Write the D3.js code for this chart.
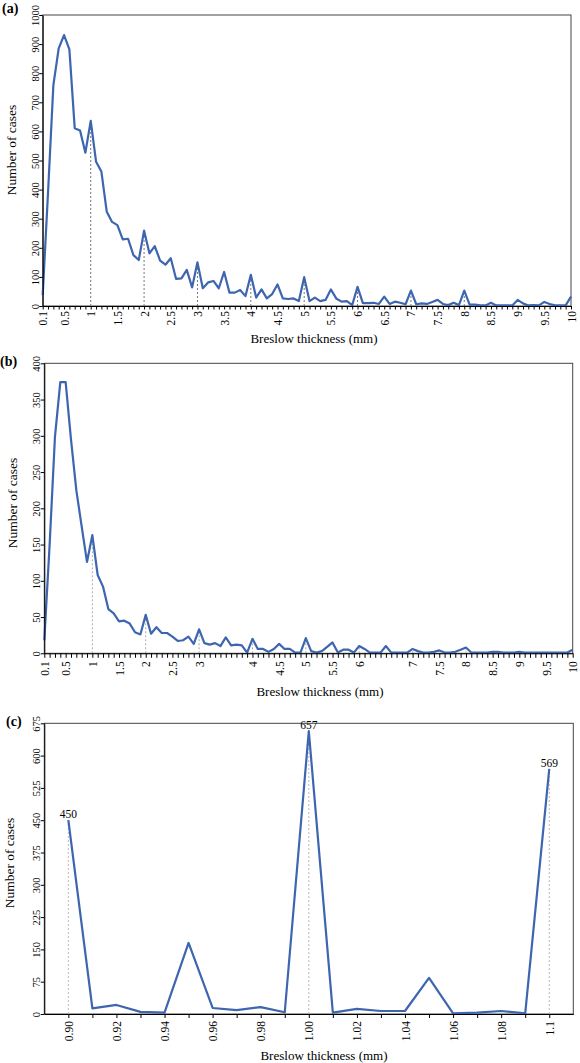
<!DOCTYPE html>
<html>
<head>
<meta charset="utf-8">
<script src="https://d3js.org/d3.v7.min.js"></script>
<title>Breslow thickness</title>
<style>
body { margin: 0; background: #fff; }
text { font-family: 'Liberation Serif', 'DejaVu Serif', serif; }
</style>
</head>
<body>
<svg width="580" height="1063"></svg>
<script>

// Breslow thickness categories, 0.1 mm steps (panels a and b)
const thickness = [0.1,0.2,0.3,0.4,0.5,0.6,0.7,0.8,0.9,1,
  1.1,1.2,1.3,1.4,1.5,1.6,1.7,1.8,1.9,2,
  2.1,2.2,2.3,2.4,2.5,2.6,2.7,2.8,2.9,3,
  3.1,3.2,3.3,3.4,3.5,3.6,3.7,3.8,3.9,4,
  4.1,4.2,4.3,4.4,4.5,4.6,4.7,4.8,4.9,5,
  5.1,5.2,5.3,5.4,5.5,5.6,5.7,5.8,5.9,6,
  6.1,6.2,6.3,6.4,6.5,6.6,6.7,6.8,6.9,7,
  7.1,7.2,7.3,7.4,7.5,7.6,7.7,7.8,7.9,8,
  8.1,8.2,8.3,8.4,8.5,8.6,8.7,8.8,8.9,9,
  9.1,9.2,9.3,9.4,9.5,9.6,9.7,9.8,9.9,10];

const casesA = [38,390,759,885,931,882,611,603,527,636,
  496,462,324,289,278,229,231,175,158,259,
  181,206,156,142,164,93,95,124,64,150,
  61,81,86,61,117,46,46,55,34,107,
  29,57,26,41,74,26,24,26,17,99,
  17,29,17,21,57,26,15,17,3,66,
  10,10,11,7,32,7,15,11,6,53,
  6,9,7,14,21,7,3,11,3,53,
  5,5,2,2,11,2,2,2,2,21,
  9,2,3,2,14,7,2,2,2,32];

const casesB = [18,150,299,374,374,295,225,175,126,163,
  108,92,61,55,44,45,41,29,26,53,
  27,36,28,28,23,17,18,23,13,33,
  14,12,14,10,22,11,12,11,1,20,
  6,6,2,6,13,6,6,1,1,21,
  3,1,3,9,15,1,5,5,1,10,
  6,1,1,1,10,1,1,1,1,6,
  3,1,1,2,4,1,1,2,5,8,
  1,1,1,1,2,2,1,1,1,2,
  1,1,1,1,1,1,1,1,1,5];

const labelsA = [0.1,0.5,1,1.5,2,2.5,3,3.5,4,4.5,5,5.5,6,6.5,7,7.5,8,8.5,9,9.5,10];
const labelsB = [0.1,0.5,1,1.5,2,2.5,3,4,4.5,5,5.5,6,7,7.5,8,8.5,9,9.5,10];
const wholeMm = [1,2,3,4,5,6,7,8];

// panel c: 0.01 mm steps around 1 mm
const thicknessC = ["0.90","0.91","0.92","0.93","0.94","0.95","0.96","0.97","0.98","0.99","1.00",
  "1.01","1.02","1.03","1.04","1.05","1.06","1.07","1.08","1.09","1.1"];
const casesC = [450,13,21,5,3,165,14,9,16,4,657,3,12,7,7,84,1.5,3,7,1.5,569];
const labelsC = ["0.90","0.92","0.94","0.96","0.98","1.00","1.02","1.04","1.06","1.08","1.1"];
const markedC = ["0.90","1.00","1.1"];

const yTicksA = d3.range(0, 1001, 100);
const yTicksB = d3.range(0, 401, 50);
const yTicksC = d3.range(0, 676, 75);

const svg = d3.select("svg");
const blue = "#3d65b0";
const serif = "'Liberation Serif', 'DejaVu Serif', serif";

function drawPanel(p) {
  let g = svg.append("g").attr("font-family", serif);

  let x = d3.scalePoint().domain(p.cats).range([p.left, p.right]).padding(p.pad);
  let y = d3.scaleLinear().domain([0, p.ymax]).range([p.bottom, p.top]);

  // frame
  g.append("rect")
    .attr("x", p.left).attr("y", p.top)
    .attr("width", p.right - p.left).attr("height", p.bottom - p.top)
    .attr("fill", "none").attr("stroke", "#444").attr("stroke-width", 1);

  // dotted guides
  g.selectAll(".guide").data(p.marks).enter().append("line")
    .attr("x1", d => x(d)).attr("x2", d => x(d))
    .attr("y1", p.bottom).attr("y2", d => y(p.vals[p.cats.indexOf(d)]))
    .attr("stroke", p.guideColor).attr("stroke-width", 1)
    .attr("stroke-dasharray", "2,2");

  // line
  let line = d3.line()
    .x((d, i) => x(p.cats[i]))
    .y(d => y(d));
  g.append("path").datum(p.vals)
    .attr("d", line)
    .attr("fill", "none").attr("stroke", blue)
    .attr("stroke-width", 2.2).attr("stroke-linejoin", "round");

  // y axis
  let ya = g.append("g").attr("transform", "translate(" + p.left + ",0)")
    .call(d3.axisLeft(y).tickValues(p.yTicks).tickSize(3.5).tickSizeOuter(0).tickFormat(d3.format("d")));
  ya.attr("font-family", serif);
  ya.selectAll("text")
    .attr("transform", "rotate(-90)")
    .attr("x", 0).attr("y", -4).attr("dy", 0)
    .attr("text-anchor", "middle")
    .style("font-size", "10.5px").style("font-family", serif).attr("fill", "#000");

  // x axis
  let xa = g.append("g").attr("transform", "translate(0," + p.bottom + ")")
    .call(d3.axisBottom(x).tickValues(p.cats).tickSize(p.tick).tickSizeOuter(0)
      .tickFormat(d => p.labels.indexOf(d) >= 0 ? String(d) : ""));
  xa.attr("font-family", serif);
  xa.selectAll("text")
    .attr("transform", "rotate(-90)")
    .attr("x", -p.labGap).attr("y", 0).attr("dy", "0.35em")
    .attr("text-anchor", "end")
    .style("font-size", "11.5px").style("font-family", serif).attr("fill", "#000");

  g.selectAll(".domain, .tick line").attr("stroke", "#000");

  // value labels (panel c)
  if (p.valueLabels) {
    g.selectAll(".vlab").data(p.marks).enter().append("text")
      .attr("x", d => x(d)).attr("y", d => y(p.vals[p.cats.indexOf(d)]) - 2)
      .attr("text-anchor", "middle").style("font-size", "11.5px")
      .text(d => p.vals[p.cats.indexOf(d)]);
  }

  // titles
  g.append("text")
    .attr("x", p.xTitle[0]).attr("y", p.xTitle[1])
    .attr("text-anchor", "middle").style("font-size", "13px")
    .text("Breslow thickness (mm)");
  g.append("text")
    .attr("transform", "translate(" + p.yTitle[0] + "," + p.yTitle[1] + ") rotate(-90)")
    .attr("text-anchor", "middle").style("font-size", "13.5px")
    .text("Number of cases");
  g.append("text")
    .attr("x", p.tag[0]).attr("y", p.tag[1])
    .style("font-size", "14px").style("font-weight", "bold")
    .text(p.name);
}

drawPanel({
  name: "(a)", cats: thickness, vals: casesA, labels: labelsA, marks: wholeMm,
  ymax: 1000, yTicks: yTicksA, left: 42.7, right: 571, top: 15, bottom: 306, pad: 0,
  tick: 3.5, labGap: 5, guideColor: "#777",
  xTitle: [314, 343], yTitle: [16, 150], tag: [2, 13]
});

drawPanel({
  name: "(b)", cats: thickness, vals: casesB, labels: labelsB, marks: wholeMm,
  ymax: 400, yTicks: yTicksB, left: 44.3, right: 572.7, top: 363.3, bottom: 653.3, pad: 0,
  tick: 4.5, labGap: 8, guideColor: "#aaa",
  xTitle: [320, 696], yTitle: [17, 503], tag: [0, 366]
});

drawPanel({
  name: "(c)", cats: thicknessC, vals: casesC, labels: labelsC, marks: markedC,
  ymax: 675, yTicks: yTicksC, left: 44.3, right: 573.3, top: 723.3, bottom: 1014, pad: 1,
  tick: 4, labGap: 7, guideColor: "#bbb", valueLabels: true,
  xTitle: [324, 1060], yTitle: [14, 863], tag: [6, 726]
});

</script>
</body>
</html>
